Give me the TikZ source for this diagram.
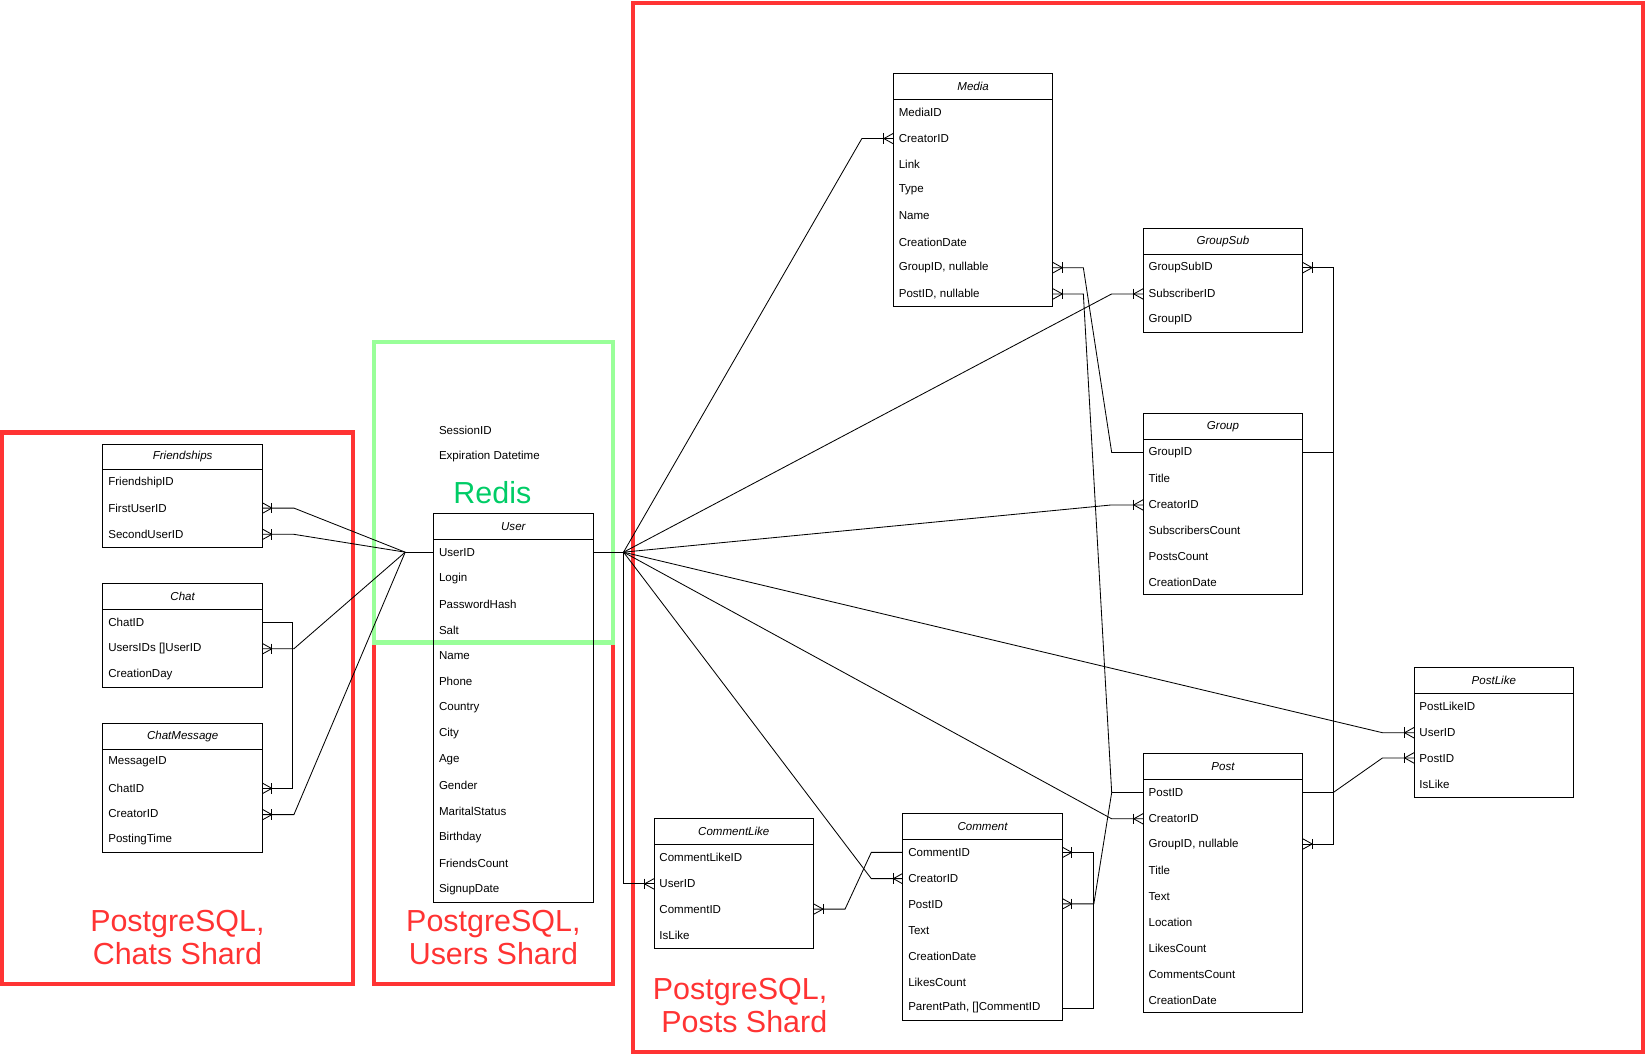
\documentclass[tikz,border=0pt]{standalone}
\usepackage{fontspec}
\setmainfont{Liberation Sans}
\begin{document}
\begin{tikzpicture}[x=1pt,y=-1pt,
  rowtxt/.style={anchor=west,inner sep=0pt,font=\fontsize{11}{13}\selectfont},
  ttl/.style={inner sep=0pt,font=\fontsize{11}{13}\selectfont\itshape},
  conn/.style={line width=0.8pt},
  frame/.style={line width=4pt},
  big/.style={align=center,font=\fontsize{29}{32}\selectfont}]
\definecolor{fr}{RGB}{255,51,51}
\definecolor{gr}{RGB}{153,255,153}
\definecolor{gt}{RGB}{0,204,102}
\useasboundingbox (0,0) rectangle (1568,1006);
% frames
\draw[frame,fr] (2,412) rectangle (336,937);
\draw[frame,fr] (356,612) rectangle (584,937);
\draw[frame,gr] (356,326) rectangle (584,612);
\draw[frame,fr] (603,3) rectangle (1565,1002);
\node[big,text=fr] (lc) at (169,893) {PostgreSQL,\\Chats Shard};
\node[big,text=fr] (lu) at (470,893) {PostgreSQL,\\Users Shard};
\node[big,text=fr] (lp) at (705,958) {PostgreSQL,\\\ Posts Shard};
\node[big,text=gt] (lr) at (469,469) {Redis};
\node[rowtxt] (s1) at (418,410) {SessionID};
\node[rowtxt] (s2) at (418,435) {Expiration Datetime};
% tables
\newcommand\tbl[4]{% x, top, title, rows
  \def\tx{#1}\def\tt{#2}
  \node[ttl] at (#1+76,#2+12.3) {#3};
  \def\n{0}
  \foreach \r [count=\i] in {#4}{
    \node[rowtxt] at (#1+5,#2+37+24.7*\i-24.7) {\r};
    \xdef\n{\i}}
  \draw[line width=0.8pt] (#1,#2) rectangle (#1+152,#2+24.5+24.7*\n);
  \draw[line width=0.8pt] (#1,#2+24.5) -- (#1+152,#2+24.5);
}
\tbl{98}{423}{Friendships}{FriendshipID,FirstUserID,SecondUserID}
\tbl{98}{556}{Chat}{ChatID,UsersIDs []UserID,CreationDay}
\tbl{98}{689}{ChatMessage}{MessageID,ChatID,CreatorID,PostingTime}
\tbl{413}{489}{User}{UserID,Login,PasswordHash,Salt,Name,Phone,Country,City,Age,Gender,MaritalStatus,Birthday,FriendsCount,SignupDate}
\tbl{851}{70}{Media}{MediaID,CreatorID,Link,Type,Name,CreationDate,{GroupID, nullable},{PostID, nullable}}
\tbl{1089}{218}{GroupSub}{GroupSubID,SubscriberID,GroupID}
\tbl{1089}{394}{Group}{GroupID,Title,CreatorID,SubscribersCount,PostsCount,CreationDate}
\tbl{1347}{636}{PostLike}{PostLikeID,UserID,PostID,IsLike}
\tbl{1089}{718}{Post}{PostID,CreatorID,{GroupID, nullable},Title,Text,Location,LikesCount,CommentsCount,CreationDate}
\tbl{860}{775}{Comment}{CommentID,CreatorID,PostID,Text,CreationDate,LikesCount,{ParentPath, []CommentID}}
\tbl{623}{780}{CommentLike}{CommentLikeID,UserID,CommentID,IsLike}
% crow's foot: x,y,dir (+1 line leaves to the right)
\newcommand\crow[3]{%
  \draw[conn] (#1+#3*9,#2-5) -- (#1+#3*9,#2+5);
  \draw[conn] (#1+#3*9,#2) -- (#1,#2-5) (#1+#3*9,#2) -- (#1,#2+5);}
\coordinate (hl) at (386,526);
\coordinate (hr) at (594,526);
% left hub
\draw[conn] (413,526) -- (hl);
\draw[conn] (250,484) -- (280,484) -- (hl); \crow{250}{484}{1}
\draw[conn] (250,509) -- (280,509) -- (hl); \crow{250}{509}{1}
\draw[conn] (250,618) -- (280,618) -- (hl); \crow{250}{618}{1}
\draw[conn] (250,776) -- (280,776) -- (hl); \crow{250}{776}{1}
\draw[conn] (250,593) -- (279,593) -- (279,751) -- (250,751); \crow{250}{751}{1}
% right hub
\draw[conn] (565,526) -- (hr);
\draw[conn] (hr) -- (821,132) -- (851,132); \crow{851}{132}{-1}
\draw[conn] (hr) -- (1059,280) -- (1089,280); \crow{1089}{280}{-1}
\draw[conn] (hr) -- (1059,481) -- (1089,481); \crow{1089}{481}{-1}
\draw[conn] (hr) -- (1317,698) -- (1347,698); \crow{1347}{698}{-1}
\draw[conn] (hr) -- (1059,780) -- (1089,780); \crow{1089}{780}{-1}
\draw[conn] (hr) -- (830,837) -- (860,837); \crow{860}{837}{-1}
\draw[conn] (hr) -- (594,842) -- (623,842); \crow{623}{842}{-1}
% others
\draw[conn] (1003,255) -- (1032,255) -- (1059,431) -- (1089,431); \crow{1003}{255}{1}
\draw[conn] (1003,280) -- (1032,280) -- (1059,755) -- (1089,755); \crow{1003}{280}{1}
\draw[conn] (1241,255) -- (1270,255) -- (1270,804) -- (1241,804); \crow{1241}{255}{1} \crow{1241}{804}{1}
\draw[conn] (1241,431) -- (1270,431);
\draw[conn] (1241,755) -- (1270,755) -- (1317,722) -- (1347,722); \crow{1347}{722}{-1}
\draw[conn] (1012,812) -- (1042,812) -- (1042,961) -- (1012,961); \crow{1012}{812}{1}
\draw[conn] (1012,861) -- (1042,861) -- (1059,755); \crow{1012}{861}{1}
\draw[conn] (775,866) -- (805,866) -- (830,812) -- (860,812); \crow{775}{866}{1}
\end{tikzpicture}
\end{document}
